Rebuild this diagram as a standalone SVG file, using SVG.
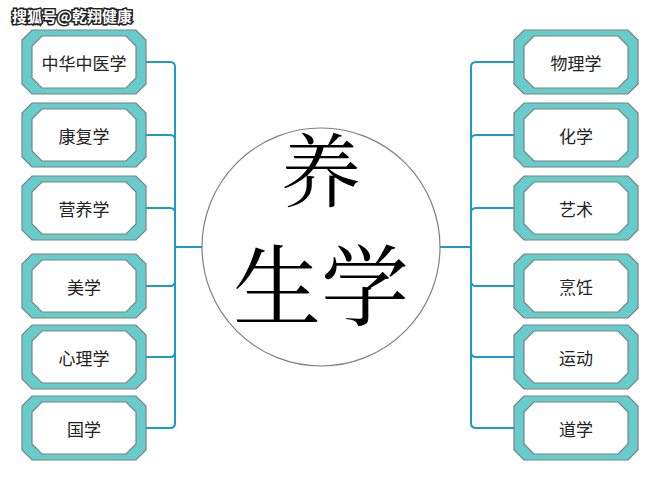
<svg xmlns="http://www.w3.org/2000/svg" width="662" height="498" viewBox="0 0 662 498">
<style>
.o{fill:#66cccc;stroke:#7f7f7f;stroke-width:1.2}
.i{fill:#fff;stroke:#7f7f7f;stroke-width:1.2}
.t{font-family:"Noto Sans CJK SC",sans-serif;font-size:17px;fill:#222;text-anchor:middle;dominant-baseline:central}
.c{fill:none;stroke:#1a9bc8;stroke-width:2}
</style>
<defs>
<g id="box">
<polygon class="o" points="-52,-32 52,-32 62,-22 62,22 52,32 -52,32 -62,22 -62,-22"/>
<polygon class="i" points="-42,-26 42,-26 52,-16 52,16 42,26 -42,26 -52,16 -52,-16"/>
</g>
</defs>
<text x="12" y="22" style="font-family:'Noto Sans CJK SC',sans-serif;font-size:15px;font-weight:bold;fill:#fff;stroke:#222;stroke-width:3;paint-order:stroke">搜狐号@乾翔健康</text>
<g id="connectors">
<path class="c" d="M146,62 H170 Q175,62 175,67 V423 Q175,428 170,428 H146"/>
<path class="c" d="M146,135 H170 Q175,135 175,140"/>
<path class="c" d="M146,208 H170 Q175,208 175,213"/>
<path class="c" d="M146,286 H170 Q175,286 175,281"/>
<path class="c" d="M146,357 H170 Q175,357 175,352"/>
<path class="c" d="M175,247 H203"/>
<path class="c" d="M514,62 H476 Q471,62 471,67 V423 Q471,428 476,428 H514"/>
<path class="c" d="M514,135 H476 Q471,135 471,140"/>
<path class="c" d="M514,208 H476 Q471,208 471,213"/>
<path class="c" d="M514,286 H476 Q471,286 471,281"/>
<path class="c" d="M514,357 H476 Q471,357 471,352"/>
<path class="c" d="M440,247 H471"/>
</g>
<g id="center">
<circle cx="321" cy="247" r="119" fill="#fff" stroke="#7f7f7f" stroke-width="1.2"/>
<text x="321" y="200" style="font-family:'Noto Serif CJK SC','Noto Sans CJK SC',serif;font-size:80px;text-anchor:middle">养</text>
<text x="321" y="318" style="font-family:'Noto Serif CJK SC','Noto Sans CJK SC',serif;font-size:88px;text-anchor:middle">生学</text>
</g>
<g id="n1"><use href="#box" x="84" y="62"/><text class="t" x="84" y="62">中华中医学</text></g>
<g id="n2"><use href="#box" x="84" y="135"/><text class="t" x="84" y="135">康复学</text></g>
<g id="n3"><use href="#box" x="84" y="208"/><text class="t" x="84" y="208">营养学</text></g>
<g id="n4"><use href="#box" x="84" y="286"/><text class="t" x="84" y="286">美学</text></g>
<g id="n5"><use href="#box" x="84" y="357"/><text class="t" x="84" y="357">心理学</text></g>
<g id="n6"><use href="#box" x="84" y="428"/><text class="t" x="84" y="428">国学</text></g>
<g id="n7"><use href="#box" x="576" y="62"/><text class="t" x="576" y="62">物理学</text></g>
<g id="n8"><use href="#box" x="576" y="135"/><text class="t" x="576" y="135">化学</text></g>
<g id="n9"><use href="#box" x="576" y="208"/><text class="t" x="576" y="208">艺术</text></g>
<g id="n10"><use href="#box" x="576" y="286"/><text class="t" x="576" y="286">烹饪</text></g>
<g id="n11"><use href="#box" x="576" y="357"/><text class="t" x="576" y="357">运动</text></g>
<g id="n12"><use href="#box" x="576" y="428"/><text class="t" x="576" y="428">道学</text></g>
</svg>
